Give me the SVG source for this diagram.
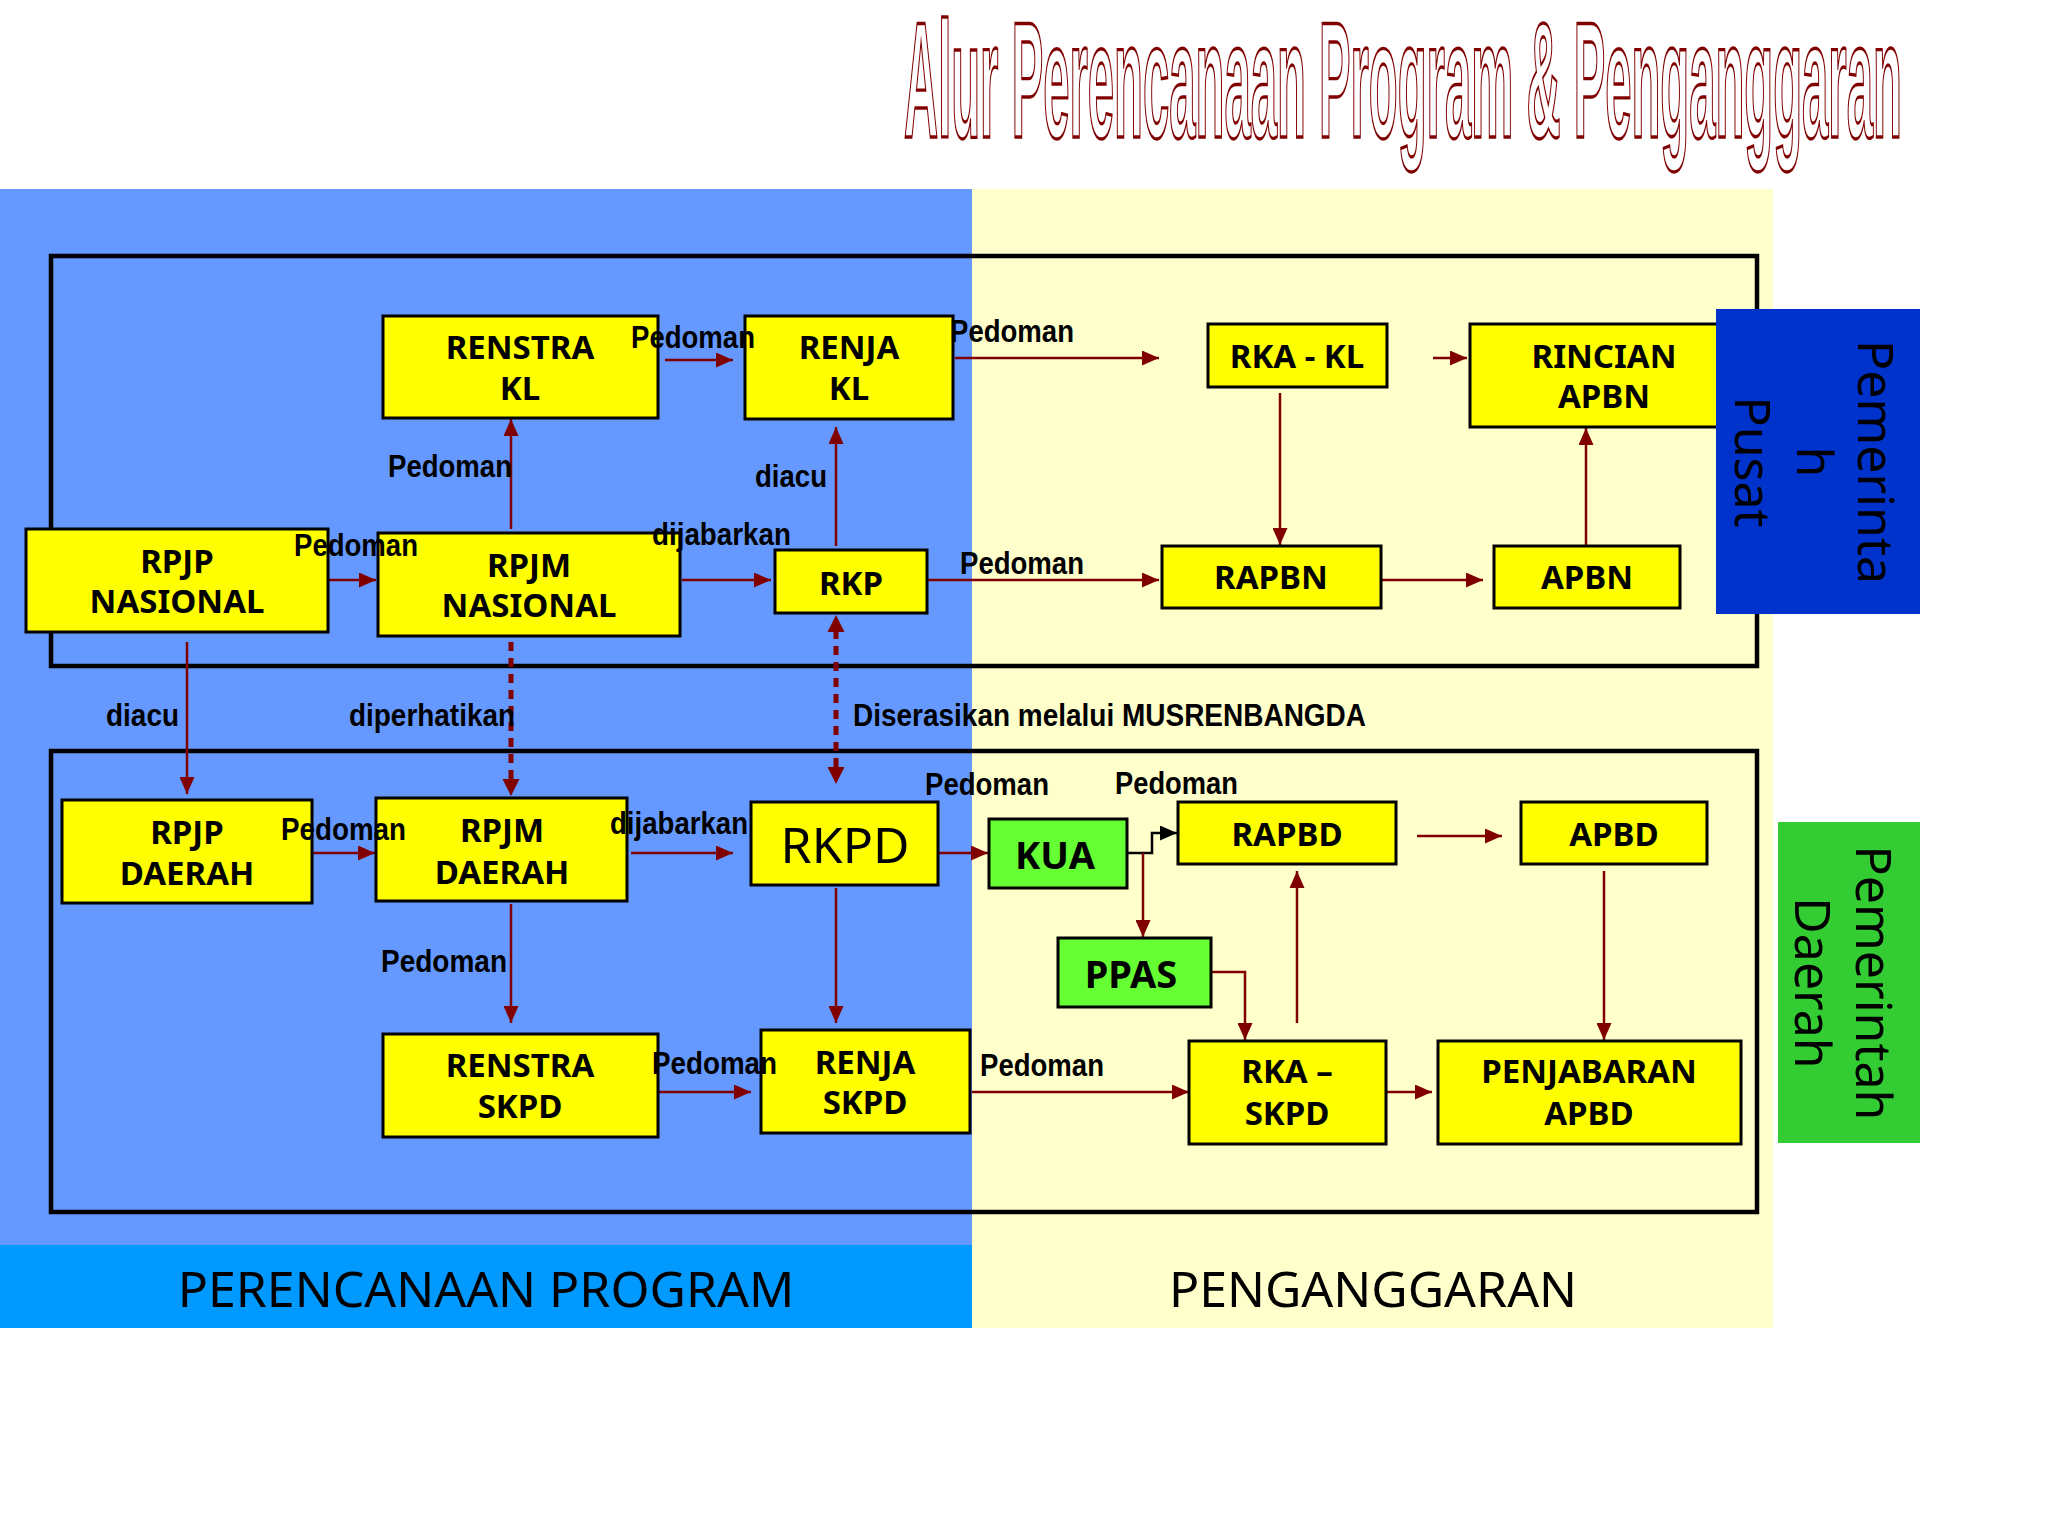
<svg xmlns="http://www.w3.org/2000/svg" width="2048" height="1536" viewBox="0 0 2048 1536">
<defs>
<style>
.box{fill:#FFFF00;stroke:#000;stroke-width:3}
.gbox{fill:#66FF33;stroke:#000;stroke-width:3}
.nt{font-family:"Noto Sans","Open Sans",sans-serif;font-weight:bold;font-size:33px;text-anchor:middle;fill:#000}
.lbl{font-family:"Liberation Sans Narrow","Arial Narrow","Liberation Sans",sans-serif;font-weight:bold;font-size:32px;fill:#000}
.ln{stroke:#800000;stroke-width:2.5;fill:none}
.dl{stroke:#800000;stroke-width:5;stroke-dasharray:9 7;fill:none}
.frame{fill:none;stroke:#000;stroke-width:4.5}
.side{font-family:"Noto Sans","Open Sans",sans-serif;font-size:50px;text-anchor:middle;fill:#000}
.foot{font-family:"Noto Sans","Open Sans",sans-serif;font-size:50px;text-anchor:middle;fill:#000}
</style>
<marker id="ah" viewBox="0 0 17 15" refX="17" refY="7.5" markerWidth="17" markerHeight="15" markerUnits="userSpaceOnUse" orient="auto">
<path d="M0,0 L17,7.5 L0,15 z" fill="#800000"/>
</marker>
<marker id="ahk" viewBox="0 0 17 15" refX="17" refY="7.5" markerWidth="17" markerHeight="15" markerUnits="userSpaceOnUse" orient="auto">
<path d="M0,0 L17,7.5 L0,15 z" fill="#000"/>
</marker>
</defs>
<rect width="2048" height="1536" fill="#fff"/>
<!-- title -->
<text transform="translate(904,137) scale(0.2847,1)" x="0" y="0" font-family="'Liberation Sans',Arial,sans-serif" font-weight="bold" font-size="166" fill="#fff" stroke="#800000" stroke-width="2.5" vector-effect="non-scaling-stroke">Alur Perencanaan Program &amp; Penganggaran</text>
<!-- panels -->
<rect x="0" y="189" width="972" height="1056" fill="#6699FF"/>
<rect x="972" y="189" width="801" height="1139" fill="#FFFFCC"/>
<rect x="0" y="1245" width="972" height="83" fill="#0099FF"/>
<text class="foot" x="486" y="1307">PERENCANAAN PROGRAM</text>
<text class="foot" x="1373" y="1307">PENGANGGARAN</text>
<!-- frames -->
<rect class="frame" x="51" y="256" width="1706" height="410"/>
<rect class="frame" x="51" y="751" width="1706" height="461"/>
<!-- connectors -->
<g id="connectors">
<path class="ln" marker-end="url(#ah)" d="M665,360 H733"/>
<path class="ln" marker-end="url(#ah)" d="M955,358 H1159"/>
<path class="ln" marker-end="url(#ah)" d="M1433,358 H1467"/>
<path class="ln" marker-end="url(#ah)" d="M1280,393 V545"/>
<path class="ln" marker-end="url(#ah)" d="M1586,546 V428"/>
<path class="ln" marker-end="url(#ah)" d="M511,529 V419"/>
<path class="ln" marker-end="url(#ah)" d="M836,546 V427"/>
<path class="ln" marker-end="url(#ah)" d="M328,580 H376"/>
<path class="ln" marker-end="url(#ah)" d="M682,580 H771"/>
<path class="ln" marker-end="url(#ah)" d="M923,580 H1159"/>
<path class="ln" marker-end="url(#ah)" d="M1382,580 H1483"/>
<path class="ln" marker-end="url(#ah)" d="M187,642 V794"/>
<path class="dl" d="M511,642 V780"/>
<path d="M502.5,779 L519.5,779 L511,796 z" fill="#800000"/>
<path class="dl" d="M836,630 V768"/>
<path d="M827.5,632 L844.5,632 L836,615 z" fill="#800000"/>
<path d="M827.5,767 L844.5,767 L836,784 z" fill="#800000"/>
<path class="ln" marker-end="url(#ah)" d="M307,853 H375"/>
<path class="ln" marker-end="url(#ah)" d="M631,853 H733"/>
<path class="ln" marker-end="url(#ah)" d="M939,853 H988"/>
<path fill="none" stroke="#000" stroke-width="2.5" marker-end="url(#ahk)" d="M1127,853 H1152 V833 H1177"/>
<path class="ln" marker-end="url(#ah)" d="M1143,853 V937"/>
<path class="ln" marker-end="url(#ah)" d="M1211,972 H1245 V1040"/>
<path class="ln" marker-end="url(#ah)" d="M1297,1023 V871"/>
<path class="ln" marker-end="url(#ah)" d="M1417,836 H1502"/>
<path class="ln" marker-end="url(#ah)" d="M1604,871 V1040"/>
<path class="ln" marker-end="url(#ah)" d="M1382,1092 H1432"/>
<path class="ln" marker-end="url(#ah)" d="M972,1092 H1189"/>
<path class="ln" marker-end="url(#ah)" d="M511,904 V1023"/>
<path class="ln" marker-end="url(#ah)" d="M836,888 V1023"/>
<path class="ln" marker-end="url(#ah)" d="M649,1092 H751"/>
</g>
<!-- nodes -->
<g id="renstra-kl"><rect class="box" x="383" y="316" width="275" height="102"/><text class="nt" x="520" y="359">RENSTRA</text><text class="nt" x="520" y="400">KL</text></g>
<g id="renja-kl"><rect class="box" x="745" y="316" width="208" height="103"/><text class="nt" x="849" y="359">RENJA</text><text class="nt" x="849" y="400">KL</text></g>
<g id="rpjp-nasional"><rect class="box" x="26" y="529" width="302" height="103"/><text class="nt" x="177" y="573">RPJP</text><text class="nt" x="177" y="613">NASIONAL</text></g>
<g id="rpjm-nasional"><rect class="box" x="378" y="533" width="302" height="103"/><text class="nt" x="529" y="577">RPJM</text><text class="nt" x="529" y="617">NASIONAL</text></g>
<g id="rkp"><rect class="box" x="775" y="550" width="152" height="63"/><text class="nt" x="851" y="595">RKP</text></g>
<g id="rka-kl"><rect class="box" x="1208" y="324" width="179" height="63"/><text class="nt" x="1297" y="368">RKA - KL</text></g>
<g id="rincian-apbn"><rect class="box" x="1470" y="324" width="268" height="103"/><text class="nt" x="1604" y="368">RINCIAN</text><text class="nt" x="1604" y="408">APBN</text></g>
<g id="rapbn"><rect class="box" x="1162" y="546" width="219" height="62"/><text class="nt" x="1271" y="589">RAPBN</text></g>
<g id="apbn"><rect class="box" x="1494" y="546" width="186" height="62"/><text class="nt" x="1587" y="589">APBN</text></g>
<g id="rpjp-daerah"><rect class="box" x="62" y="800" width="250" height="103"/><text class="nt" x="187" y="844">RPJP</text><text class="nt" x="187" y="885">DAERAH</text></g>
<g id="rpjm-daerah"><rect class="box" x="376" y="798" width="251" height="103"/><text class="nt" x="502" y="842">RPJM</text><text class="nt" x="502" y="884">DAERAH</text></g>
<g id="rkpd"><rect class="box" x="751" y="802" width="187" height="83"/><text x="845" y="863" font-family="'Noto Sans','Open Sans',sans-serif" font-size="50" text-anchor="middle" fill="#000">RKPD</text></g>
<g id="kua"><rect class="gbox" x="989" y="819" width="138" height="69"/><text class="nt" x="1055" y="869" style="font-size:38px">KUA</text></g>
<g id="ppas"><rect class="gbox" x="1058" y="938" width="153" height="69"/><text class="nt" x="1131" y="988" style="font-size:38px">PPAS</text></g>
<g id="rapbd"><rect class="box" x="1178" y="802" width="218" height="62"/><text class="nt" x="1287" y="846">RAPBD</text></g>
<g id="apbd"><rect class="box" x="1521" y="802" width="186" height="62"/><text class="nt" x="1614" y="846">APBD</text></g>
<g id="renstra-skpd"><rect class="box" x="383" y="1034" width="275" height="103"/><text class="nt" x="520" y="1077">RENSTRA</text><text class="nt" x="520" y="1118">SKPD</text></g>
<g id="renja-skpd"><rect class="box" x="761" y="1030" width="209" height="103"/><text class="nt" x="865" y="1074">RENJA</text><text class="nt" x="865" y="1114">SKPD</text></g>
<g id="rka-skpd"><rect class="box" x="1189" y="1041" width="197" height="103"/><text class="nt" x="1287" y="1083">RKA –</text><text class="nt" x="1287" y="1125">SKPD</text></g>
<g id="penjabaran-apbd"><rect class="box" x="1438" y="1041" width="303" height="103"/><text class="nt" x="1589" y="1083">PENJABARAN</text><text class="nt" x="1589" y="1125">APBD</text></g>
<!-- labels (drawn over nodes as in the reference) -->
<g id="labels">
<text class="lbl" x="631" y="348" textLength="124" lengthAdjust="spacingAndGlyphs">Pedoman</text>
<text class="lbl" x="950" y="342" textLength="124" lengthAdjust="spacingAndGlyphs">Pedoman</text>
<text class="lbl" x="388" y="477" textLength="124" lengthAdjust="spacingAndGlyphs">Pedoman</text>
<text class="lbl" x="755" y="487" textLength="72" lengthAdjust="spacingAndGlyphs">diacu</text>
<text class="lbl" x="294" y="556" textLength="124" lengthAdjust="spacingAndGlyphs">Pedoman</text>
<text class="lbl" x="652" y="545" textLength="139" lengthAdjust="spacingAndGlyphs">dijabarkan</text>
<text class="lbl" x="960" y="574" textLength="124" lengthAdjust="spacingAndGlyphs">Pedoman</text>
<text class="lbl" x="106" y="726" textLength="73" lengthAdjust="spacingAndGlyphs">diacu</text>
<text class="lbl" x="349" y="726" textLength="166" lengthAdjust="spacingAndGlyphs">diperhatikan</text>
<text class="lbl" x="853" y="726" textLength="513" lengthAdjust="spacingAndGlyphs">Diserasikan melalui MUSRENBANGDA</text>
<text class="lbl" x="925" y="795" textLength="124" lengthAdjust="spacingAndGlyphs">Pedoman</text>
<text class="lbl" x="1115" y="794" textLength="123" lengthAdjust="spacingAndGlyphs">Pedoman</text>
<text class="lbl" x="281" y="840" textLength="125" lengthAdjust="spacingAndGlyphs">Pedoman</text>
<text class="lbl" x="610" y="834" textLength="138" lengthAdjust="spacingAndGlyphs">dijabarkan</text>
<text class="lbl" x="381" y="972" textLength="126" lengthAdjust="spacingAndGlyphs">Pedoman</text>
<text class="lbl" x="652" y="1074" textLength="125" lengthAdjust="spacingAndGlyphs">Pedoman</text>
<text class="lbl" x="980" y="1076" textLength="124" lengthAdjust="spacingAndGlyphs">Pedoman</text>
</g>
<!-- side panels -->
<g id="pemerintah-pusat"><rect x="1716" y="309" width="204" height="305" fill="#0033CC"/>
<text class="side" transform="translate(1858,462) rotate(90)">Pemerinta</text>
<text class="side" transform="translate(1797,462) rotate(90)">h</text>
<text class="side" transform="translate(1735,462) rotate(90)">Pusat</text></g>
<g id="pemerintah-daerah"><rect x="1778" y="822" width="142" height="321" fill="#33CC33"/>
<text class="side" transform="translate(1856,983) rotate(90)">Pemerintah</text>
<text class="side" transform="translate(1795,983) rotate(90)">Daerah</text></g>
</svg>
